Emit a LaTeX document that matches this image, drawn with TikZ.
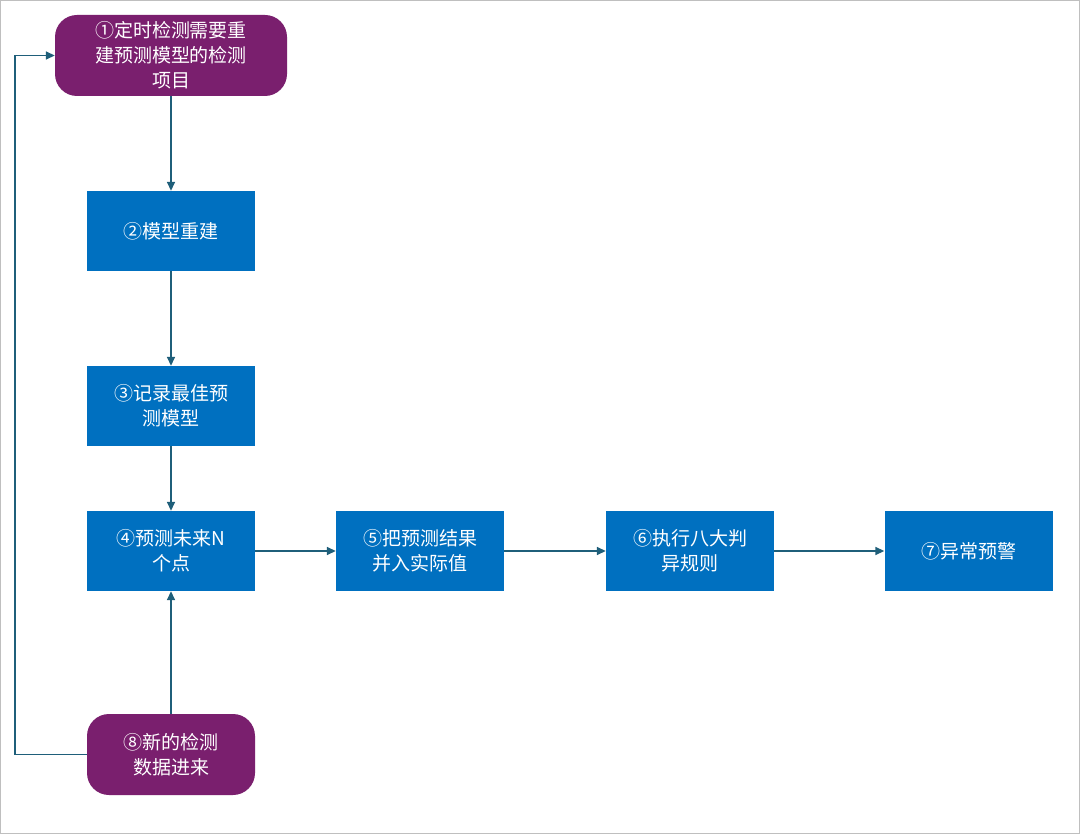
\documentclass[tikz,border=0pt]{standalone}
\usepackage{fontspec}
\setmainfont{Noto Sans CJK SC}
\usetikzlibrary{arrows.meta}
\definecolor{bx}{HTML}{0070C0}
\definecolor{pu}{HTML}{7A1F6E}
\definecolor{ar}{HTML}{1F5F7A}
\begin{document}
\begin{tikzpicture}[x=1pt,y=-1pt,
 b/.style={fill=bx,text=white,minimum width=168pt,minimum height=80pt,inner sep=2pt,align=center,font=\fontsize{19}{25}\selectfont},
 p/.style={b,fill=pu,rounded corners=22pt},
 a/.style={draw=ar,line width=1.6pt,-{Triangle[length=9pt,width=8pt]}}]
\draw[gray!50,fill=white] (0.5,0.5) rectangle (1079.5,833.5);
\useasboundingbox (0,0) rectangle (1080,834);
\node[p,minimum width=232pt,minimum height=81pt] (n1) at (171,55.5) {①定时检测需要重\\建预测模型的检测\\项目};
\node[b] (n2) at (171,231) {②模型重建};
\node[b] (n3) at (171,406) {③记录最佳预\\测模型};
\node[b] (n4) at (171,551) {④预测未来N\\个点};
\node[b] (n5) at (420,551) {⑤把预测结果\\并入实际值};
\node[b] (n6) at (690,551) {⑥执行八大判\\异规则};
\node[b] (n7) at (968.5,551) {⑦异常预警};
\node[p,minimum height=81pt] (n8) at (171,754.5) {⑧新的检测\\数据进来};
\draw[a] (n1) -- (n2);
\draw[a] (n2) -- (n3);
\draw[a] (n3) -- (n4);
\draw[a] (n4) -- (n5);
\draw[a] (n5) -- (n6);
\draw[a] (n6) -- (n7);
\draw[a] (n8) -- (n4);
\draw[a] (n8.west) -| (15,55.5) -- (n1.west);
\end{tikzpicture}
\end{document}
